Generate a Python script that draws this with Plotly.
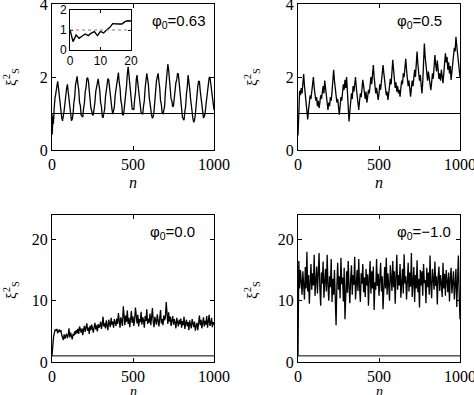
import plotly.graph_objects as go

# ---------------- data ----------------
# inset (phi0 = 0.63), n = 0..20
inset_n = list(range(0, 21))
inset_vals = [1.0, 0.42, 0.75, 0.58, 0.7, 0.8, 0.72, 0.85, 0.92, 0.72, 0.93, 0.85, 1.0, 1.12,
              1.32, 1.3, 1.3, 1.3, 1.42, 1.46, 1.45]

# phi0 = 0.63 main trace, n = 25..1000 step 5 (after the inset points)
tl_main = [
    1.6, 1.82, 1.88, 1.7, 1.48, 1.22, 1.08, 0.88, 0.8, 0.9, 1.08, 1.28, 1.55, 1.68, 1.8,
    1.62, 1.45, 1.15, 1.0, 0.8, 0.85, 0.98, 1.3, 1.45, 1.78, 1.88, 2.02, 1.8, 1.65, 1.3, 1.22, 0.95, 0.93, 0.9, 1.15,
    1.28, 1.6, 1.7, 1.95, 1.98, 1.88, 1.6, 1.5, 1.15, 1.08, 0.95, 0.97, 1.12, 1.32, 1.6, 1.72, 1.88, 1.95, 1.78, 1.62,
    1.3, 1.2, 0.92, 0.88, 1.0, 1.12, 1.45, 1.6, 1.88, 1.96, 1.92, 1.68, 1.55, 1.25, 1.12, 0.98, 1.05, 1.18, 1.5, 1.66,
    1.92, 2.0, 2.12, 1.85, 1.7, 1.35, 1.25, 0.98, 0.95, 1.1, 1.28, 1.6, 1.75, 2.08, 2.28, 2.05, 1.85, 1.5, 1.35, 1.12,
    1.12, 1.1, 1.38, 1.55, 1.92, 2.05, 1.82, 1.65, 1.35, 1.25, 1.02, 1.0, 0.98, 1.2, 1.35, 1.7, 1.85, 2.1, 1.95, 1.8,
    1.45, 1.3, 1.02, 0.95, 0.87, 0.92, 1.08, 1.4, 1.55, 1.9, 2.0, 2.1, 1.88, 1.7, 1.35, 1.25, 1.02, 1.0, 1.08, 1.2,
    1.6, 1.8, 2.15, 2.35, 2.2, 1.85, 1.7, 1.4, 1.35, 1.18, 1.22, 1.45, 1.55, 1.85, 1.92, 2.1, 2.08, 1.85, 1.65, 1.3,
    1.15, 0.9, 0.85, 0.82, 1.05, 1.2, 1.55, 1.72, 2.05, 1.92, 1.68, 1.42, 1.2, 0.92, 0.85, 0.76, 0.82, 0.98, 1.3, 1.45,
    1.75, 1.88, 1.88, 1.62, 1.45, 1.18, 1.05, 0.88, 0.92, 1.0, 1.22, 1.4, 1.72, 1.8, 1.98, 2.0, 1.82, 1.52, 1.4, 1.18,
    1.1,
]
tl_n = inset_n + list(range(25, 1001, 5))
tl_vals = inset_vals + tl_main

# phi0 = 0.5, n = 0..1000 step 5
tr_vals = [
    0.4, 1.3, 1.62, 1.5, 1.7, 1.55, 1.85, 2.08, 1.75, 1.5, 1.3, 1.05, 0.84, 1.1, 1.25, 1.5, 1.4, 1.65, 1.8, 2.0,
    1.7, 1.55, 1.35, 1.45, 1.2, 1.35, 1.15, 1.3, 1.5, 1.4, 1.6, 1.75, 1.55, 1.9, 1.7, 1.45, 1.25, 1.1, 1.3, 1.2,
    1.45, 1.35, 1.6, 1.85, 2.2, 1.9, 1.65, 1.5, 1.3, 1.4, 1.1, 0.97, 1.2, 1.45, 1.35, 1.6, 1.8, 1.65, 1.92, 1.7,
    2.0, 1.6, 1.2, 0.78, 1.05, 1.3, 1.55, 1.4, 1.75, 1.6, 1.85, 2.0, 1.7, 1.5, 1.25, 1.1, 1.35, 1.55, 1.45, 1.7,
    1.92, 1.75, 1.55, 1.4, 1.6, 1.3, 1.45, 1.65, 1.55, 1.85, 2.0, 1.8, 2.1, 2.33, 2.0, 1.75, 1.55, 1.7, 1.5, 1.37,
    1.55, 1.8, 1.65, 1.95, 2.15, 2.33, 2.1, 1.85, 1.7, 1.5, 1.6, 1.37, 1.55, 1.75, 1.95, 1.8, 2.15, 2.47, 2.2, 1.9,
    1.7, 1.85, 1.6, 1.75, 1.55, 1.65, 1.46, 1.7, 1.9, 1.8, 2.1, 2.0, 2.3, 2.5, 2.2, 1.95, 1.75, 1.9, 1.6, 1.46,
    1.7, 1.9, 1.75, 2.05, 2.2, 2.0, 2.4, 2.7, 2.35, 2.1, 1.9, 2.05, 1.8, 1.55, 1.85, 2.35, 2.92, 2.55, 2.3, 2.1,
    1.9, 2.15, 1.95, 1.75, 1.64, 1.85, 2.1, 1.95, 2.3, 2.6, 2.35, 2.15, 2.45, 2.2, 1.95, 2.1, 1.9, 2.2, 2.0, 1.83,
    2.1, 2.35, 2.65, 2.4, 2.55, 2.2, 2.4, 2.1, 2.3, 1.92, 2.15, 2.4, 2.55, 2.8, 2.7, 3.1, 2.85, 2.6, 2.45, 2.3,
    2.0,
]

# phi0 = 0.0, n = 0..1000 step 5
bl_vals = [
    1.0, 3.5, 4.2, 4.8, 5.3, 5.1, 5.4, 4.7, 5.0, 5.3, 4.9, 5.2, 4.4, 4.0, 3.6, 4.5, 3.8, 4.3, 4.6, 3.9,
    4.4, 5.5, 4.0, 4.8, 4.2, 3.7, 4.6, 4.3, 5.0, 4.5, 5.2, 4.7, 5.4, 4.6, 5.8, 5.1, 4.8, 5.5, 4.4, 5.3,
    5.9, 4.9, 5.4, 6.3, 5.1, 5.6, 4.6, 5.9, 5.2, 6.1, 5.5, 4.8, 5.7, 6.4, 5.3, 6.0, 5.0, 6.2, 5.6, 5.9,
    6.6, 5.4, 6.1, 7.4, 5.8, 6.3, 5.5, 6.8, 6.0, 5.2, 6.9, 6.4, 5.7, 7.2, 6.1, 6.6, 5.6, 7.0, 6.3, 5.9,
    7.1, 6.2, 8.0, 6.5, 5.6, 7.3, 6.8, 5.9, 9.1, 7.0, 6.0, 7.6, 6.6, 8.4, 6.2, 7.2, 5.7, 6.9, 8.3, 6.4,
    7.4, 5.9, 6.8, 8.9, 7.1, 6.3, 7.7, 5.8, 7.0, 6.5, 8.2, 6.1, 7.3, 6.8, 5.6, 7.5, 6.7, 8.6, 6.2, 7.1,
    6.4, 7.9, 6.0, 7.2, 8.8, 6.6, 5.7, 7.4, 6.9, 6.1, 7.8, 6.5, 5.8, 7.1, 8.5, 6.3, 7.0, 6.0, 7.6, 6.8,
    7.3, 9.8, 7.0, 6.2, 8.1, 6.6, 7.4, 5.9, 6.8, 7.5, 6.1, 7.0, 6.4, 5.5, 7.2, 6.6, 5.8, 6.9, 6.2, 7.1,
    5.6, 6.7, 6.0, 7.4, 5.4, 6.3, 6.9, 5.8, 6.5, 5.2, 6.8, 6.1, 5.5, 7.0, 6.2, 5.7, 6.6, 5.1, 5.9, 6.4,
    5.2, 6.8, 7.6, 6.0, 6.9, 5.5, 6.4, 7.3, 5.8, 6.7, 6.1, 7.5, 5.6, 6.6, 7.7, 5.9, 6.3, 7.2, 5.7, 6.5,
    6.1,
]

# phi0 = -1.0, n = 0..1000 step 5
br_vals = [
    1.0, 16.5, 12.0, 15.0, 13.2, 11.0, 14.8, 12.3, 10.2, 15.5, 12.0, 18.0, 11.5, 14.2, 9.5, 13.0, 16.0, 11.8, 14.5, 12.5,
    17.5, 10.8, 13.8, 15.6, 11.2, 13.5, 17.8, 12.0, 9.2, 14.6, 12.8, 16.4, 10.5, 13.2, 15.2, 11.5, 17.5, 12.6, 10.0, 14.0,
    12.2, 16.8, 9.8, 13.6, 11.0, 15.0, 8.5, 6.0, 12.5, 16.2, 11.8, 14.0, 10.4, 17.0, 12.7, 13.8, 9.9, 15.4, 7.0, 12.0,
    14.8, 11.3, 16.5, 12.4, 9.6, 13.5, 15.8, 11.0, 14.2, 12.6, 17.2, 10.2, 13.9, 15.0, 11.6, 16.8, 12.2, 9.8, 14.5, 12.8,
    16.0, 11.4, 13.8, 10.6, 15.2, 12.5, 14.3, 9.2, 13.6, 16.5, 11.2, 14.8, 12.0, 15.6, 8.5, 13.0, 11.8, 16.8, 12.4, 14.4,
    10.8, 13.6, 16.2, 11.5, 14.0, 8.6, 13.2, 15.5, 12.0, 17.0, 11.0, 14.5, 12.6, 10.0, 15.8, 13.0, 11.6, 16.5, 12.2, 14.8,
    9.5, 13.8, 17.5, 11.8, 14.2, 12.5, 16.0, 10.5, 13.5, 15.2, 11.2, 17.6, 12.8, 14.0, 10.2, 13.4, 16.2, 11.5, 14.6, 12.3,
    17.8, 10.6, 13.9, 15.5, 9.8, 14.2, 12.0, 16.6, 11.4, 13.6, 8.9, 15.0, 12.5, 14.8, 10.8, 16.0, 12.9, 13.4, 9.6, 15.4,
    12.2, 14.6, 11.0, 17.4, 12.6, 10.4, 15.2, 13.0, 11.8, 16.4, 12.4, 14.0, 9.4, 13.8, 15.6, 11.6, 14.2, 12.8, 10.6, 16.2,
    12.0, 14.4, 10.8, 15.0, 13.2, 11.4, 14.6, 9.9, 13.6, 15.4, 11.2, 13.0, 14.8, 10.2, 12.6, 15.2, 9.0, 13.5, 17.4, 11.0,
    7.0,
]
step_n = list(range(0, 1001, 5))

labels = ["φ<sub>0</sub>=0.63", "φ<sub>0</sub>=0.5", "φ<sub>0</sub>=0.0", "φ<sub>0</sub>=\u22121.0"]
x_ticks = [0, 500, 1000]
y_ticks_top = [0, 2, 4]
y_ticks_bottom = [0, 10, 20]
ref_level = 1

# ---------------- figure ----------------
W, H = 474, 395
SERIF = "Liberation Serif"
SANS = "Liberation Sans"

def px(x0, x1):
    return [x0 / W, x1 / W]
def py(y_top, y_bot):
    return [1 - y_bot / H, 1 - y_top / H]

panels = [
    dict(n=tl_n, v=tl_vals, xd=px(52, 214), yd=py(4, 150), yr=[0, 4], yt=y_ticks_top),
    dict(n=step_n, v=tr_vals, xd=px(298, 460), yd=py(4, 150), yr=[0, 4], yt=y_ticks_top),
    dict(n=step_n, v=bl_vals, xd=px(52, 214), yd=py(215, 362), yr=[0, 24], yt=y_ticks_bottom),
    dict(n=step_n, v=br_vals, xd=px(298, 460), yd=py(215, 362), yr=[0, 24], yt=y_ticks_bottom),
]

fig = go.Figure()
tick_font = dict(family=SERIF, size=16, color="black")
layout = {}
shapes = []
for i, p in enumerate(panels):
    k = "" if i == 0 else str(i + 1)
    fig.add_trace(go.Scatter(x=p["n"], y=p["v"], mode="lines",
                             line=dict(color="black", width=1.3),
                             xaxis="x" + k, yaxis="y" + k, showlegend=False))
    layout["xaxis" + k] = dict(domain=p["xd"], range=[0, 1000], tickvals=x_ticks,
                               ticks="inside", ticklen=4, showline=True, mirror="ticks",
                               linecolor="black", linewidth=1, showgrid=False, zeroline=False,
                               tickfont=tick_font, anchor="y" + k, tickcolor="black",
                               automargin=False, ticklabeloverflow="allow")
    layout["yaxis" + k] = dict(domain=p["yd"], range=p["yr"], tickvals=p["yt"],
                               ticks="inside", ticklen=4, showline=True, mirror="ticks",
                               linecolor="black", linewidth=1, showgrid=False, zeroline=False,
                               tickfont=tick_font, anchor="x" + k, tickcolor="black",
                               automargin=False, ticklabeloverflow="allow")
    shapes.append(dict(type="line", xref="x" + k + " domain", yref="y" + k,
                       x0=0, x1=1, y0=ref_level, y1=ref_level,
                       line=dict(color="black", width=1)))

# inset
fig.add_trace(go.Scatter(x=inset_n, y=inset_vals, mode="lines",
                         line=dict(color="black", width=1.4),
                         xaxis="x5", yaxis="y5", showlegend=False))
inset_font = dict(family=SANS, size=12, color="black")
layout["xaxis5"] = dict(domain=px(70, 131), range=[0, 20], tickvals=[0, 10, 20],
                        ticks="inside", ticklen=3, showline=True, mirror="ticks",
                        linecolor="black", linewidth=1, showgrid=False, zeroline=False,
                        tickfont=inset_font, anchor="y5", tickcolor="black", automargin=False)
layout["yaxis5"] = dict(domain=py(10, 50), range=[0, 2], tickvals=[0, 1, 2],
                        ticks="inside", ticklen=3, showline=True, mirror="ticks",
                        linecolor="black", linewidth=1, showgrid=False, zeroline=False,
                        tickfont=inset_font, anchor="x5", tickcolor="black", automargin=False)
shapes.append(dict(type="line", xref="x5 domain", yref="y5", x0=0, x1=1,
                   y0=ref_level, y1=ref_level, line=dict(color="gray", width=1, dash="dot")))

annotations = []
ann_pos = [(150, 22), (395, 22), (148, 232), (395, 232)]
for lab, (ax, ay) in zip(labels, ann_pos):
    annotations.append(dict(text=lab, xref="paper", yref="paper", x=ax / W, y=1 - ay / H,
                            xanchor="left", yanchor="middle", showarrow=False,
                            font=dict(family=SANS, size=15, color="black")))
ylab = "ξ<sup>2</sup><sub>S</sub>"
for (ax, ay) in [(11, 77), (252, 77), (11, 290), (252, 290)]:
    annotations.append(dict(text=ylab, xref="paper", yref="paper", x=ax / W, y=1 - ay / H,
                            xanchor="center", yanchor="middle", showarrow=False, textangle=-90,
                            font=dict(family=SERIF, size=15, color="black")))
for (ax, ay, fs) in [(133, 182, 16), (379, 182, 16), (133, 391, 14), (379, 391, 14)]:
    annotations.append(dict(text="<i>n</i>", xref="paper", yref="paper", x=ax / W, y=1 - ay / H,
                            xanchor="center", yanchor="middle", showarrow=False,
                            font=dict(family=SERIF, size=fs, color="black")))

fig.update_layout(width=W, height=H, margin=dict(l=0, r=0, t=0, b=0),
                  paper_bgcolor="white", plot_bgcolor="white",
                  shapes=shapes, annotations=annotations, **layout)
fig.write_html("out.html", config={"displayModeBar": False},
               post_script="document.body.style.margin='0';document.body.style.padding='0';")
